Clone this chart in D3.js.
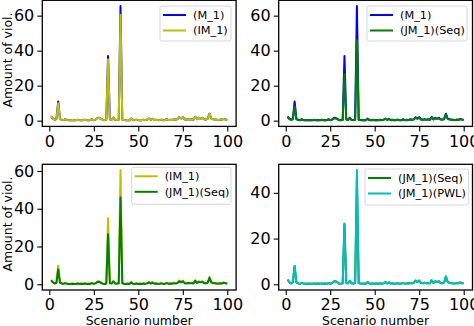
<!DOCTYPE html>
<html><head><meta charset="utf-8">
<script src="https://cdn.jsdelivr.net/npm/d3@7"></script>
<style>body{margin:0;background:#fff}svg{display:block}text{font-family:"DejaVu Sans",sans-serif}</style>
</head><body>
<svg id="c" width="474" height="326"></svg>
<script>
const scenarios = d3.range(1, 101);
const m1 = [2.5,1.2,0.5,1.0,11,1.0,0.5,0.3,0.8,0.4,0.3,0.3,0.4,0.3,0.3,0.5,0.3,0.4,0.3,0.5,
0.3,0.4,0.3,0.8,0.3,0.6,1.5,1.6,1.0,0.4,0.3,0.5,37,0.8,0.5,1.8,0.5,0.4,0.6,65.5,
0.6,0.4,0.3,0.4,0.3,1.2,0.4,0.3,0.5,0.3,0.4,0.3,0.5,0.3,0.6,1.2,0.5,1.1,0.4,0.5,
0.3,0.4,0.6,0.3,0.4,0.8,0.3,0.5,0.4,0.8,0.5,0.9,2.0,1.2,2.0,0.8,0.5,0.9,0.6,0.8,
0.5,2.2,0.8,1.6,1.2,1.6,0.8,0.6,1.0,4.0,1.2,0.8,0.6,0.5,0.4,0.6,0.5,1.0,0.6,0.5];
const im1 = [2.5,1.2,0.5,1.0,10,1.0,0.5,0.3,0.8,0.4,0.3,0.3,0.4,0.3,0.3,0.5,0.3,0.4,0.3,0.5,
0.3,0.4,0.3,0.8,0.3,0.6,1.5,1.6,1.0,0.4,0.3,0.5,35,0.8,0.5,1.8,0.5,0.4,0.6,60.5,
0.6,0.4,0.3,0.4,0.3,1.2,0.4,0.3,0.5,0.3,0.4,0.3,0.5,0.3,0.6,1.2,0.5,1.1,0.4,0.5,
0.3,0.4,0.6,0.3,0.4,0.8,0.3,0.5,0.4,0.8,0.5,0.9,2.0,1.2,2.0,0.8,0.5,0.9,0.6,0.8,
0.5,2.2,0.8,1.6,1.2,1.6,0.8,0.6,1.0,4.0,1.2,0.8,0.6,0.5,0.4,0.6,0.5,1.0,0.6,0.5];
const jmSeq = [2.0,1.0,0.4,0.8,8,0.8,0.4,0.2,0.6,0.3,0.2,0.2,0.3,0.2,0.2,0.4,0.2,0.3,0.2,0.4,
0.2,0.3,0.2,0.6,0.2,0.5,1.2,1.3,0.8,0.3,0.2,0.4,26.5,0.6,0.4,1.5,0.4,0.3,0.5,46,
0.5,0.3,0.2,0.3,0.2,1.0,0.3,0.2,0.4,0.2,0.3,0.2,0.4,0.2,0.5,1.0,0.4,0.9,0.3,0.4,
0.2,0.3,0.5,0.2,0.3,0.6,0.2,0.4,0.3,0.6,0.4,0.7,1.6,1.0,1.6,0.6,0.4,0.7,0.5,0.6,
0.4,1.8,0.6,1.3,1.0,1.3,0.6,0.5,0.8,3.4,1.0,0.6,0.5,0.4,0.3,0.5,0.4,0.8,0.5,0.4];
const jmPwl = [2.0,1.0,0.4,0.8,8,0.8,0.4,0.2,0.6,0.3,0.2,0.2,0.3,0.2,0.2,0.4,0.2,0.3,0.2,0.4,
0.2,0.3,0.2,0.6,0.2,0.5,1.2,1.3,0.8,0.3,0.2,0.4,26.5,0.6,0.4,1.5,0.4,0.3,0.5,50,
0.5,0.3,0.2,0.3,0.2,1.0,0.3,0.2,0.4,0.2,0.3,0.2,0.4,0.2,0.5,1.0,0.4,0.9,0.3,0.4,
0.2,0.3,0.5,0.2,0.3,0.6,0.2,0.4,0.3,0.6,0.4,0.7,1.6,1.0,1.6,0.6,0.4,0.7,0.5,0.6,
0.4,1.8,0.6,1.3,1.0,1.3,0.6,0.5,0.8,3.4,1.0,0.6,0.5,0.4,0.3,0.5,0.4,0.8,0.5,0.4];
const xTicks = [0, 25, 50, 75, 100];
const yTicksA = [0, 20, 40, 60];
const yTicksB = [0, 20, 40];
const seriesNames = ["(M_1)", "(IM_1)", "(JM_1)(Seq)", "(JM_1)(PWL)"];
const xLabel = "Scenario number";
const yLabel = "Amount of viol.";

const colors = {"(M_1)":"#0000ff","(IM_1)":"#bfbf00","(JM_1)(Seq)":"#008000","(JM_1)(PWL)":"#00bfbf"};
const dataBy = {"(M_1)":m1,"(IM_1)":im1,"(JM_1)(Seq)":jmSeq,"(JM_1)(PWL)":jmPwl};

const panels = [
  {x0:42.3, x1:236.1, y0:0.3, y1:126.4, s:["(M_1)","(IM_1)"], yt:yTicksA, ylab:60, xlab:false, leg:{x:160,y:6,w:71,h:35}},
  {x0:278.7, x1:472.5, y0:0.3, y1:126.4, s:["(M_1)","(JM_1)(Seq)"], yt:yTicksA, ylab:null, xlab:false, leg:{x:367,y:6,w:100,h:35}},
  {x0:42.3, x1:236.1, y0:164.3, y1:290, s:["(IM_1)","(JM_1)(Seq)"], yt:yTicksA, ylab:224, xlab:true, leg:{x:131.7,y:167.3,w:99.3,h:37}},
  {x0:278.7, x1:472.5, y0:164.3, y1:290, s:["(JM_1)(Seq)","(JM_1)(PWL)"], yt:yTicksB, ylab:null, xlab:true, leg:{x:365,y:169,w:103.7,h:36}}
];

const svg = d3.select("#c");
panels.forEach(p => {
  const xs = d3.scaleLinear().domain([1 - 99*0.05, 100 + 99*0.05]).range([p.x0, p.x1]);
  const all = p.s.flatMap(n => dataBy[n]);
  const lo = 0, hi = d3.max(all);
  const pad = (hi - lo) * 0.05;
  const ys = d3.scaleLinear().domain([lo - pad, hi + pad]).range([p.y1, p.y0]);
  const g = svg.append("g");
  const line = d3.line().x((d,i)=>xs(scenarios[i])).y(d=>ys(d));
  p.s.forEach(n => {
    g.append("path").datum(dataBy[n]).attr("d", line).attr("fill","none")
      .attr("stroke", colors[n]).attr("stroke-width", 2).attr("stroke-linejoin","round");
  });
  const xa = g.append("g").attr("transform", `translate(0,${p.y1})`)
    .call(d3.axisBottom(xs).tickValues(xTicks).tickSize(5).tickPadding(4).tickFormat(d3.format("d")));
  const ya = g.append("g").attr("transform", `translate(${p.x0},0)`)
    .call(d3.axisLeft(ys).tickValues(p.yt).tickSize(5).tickPadding(3).tickFormat(d3.format("d")));
  [xa, ya].forEach(a => {
    a.select(".domain").remove();
    a.selectAll("line").attr("stroke","#000").attr("stroke-width",1.1);
    a.selectAll("text").attr("font-size",16).attr("fill","#000").attr("font-family","DejaVu Sans");
  });
  g.append("rect").attr("x",p.x0).attr("y",p.y0).attr("width",p.x1-p.x0).attr("height",p.y1-p.y0)
    .attr("fill","none").attr("stroke","#000").attr("stroke-width",1.3);
  if (p.ylab !== null) {
    g.append("text").attr("transform",`translate(11.5,${p.ylab}) rotate(-90)`)
      .attr("text-anchor","middle").attr("font-size",12.5).text(yLabel);
  }
  if (p.xlab) {
    g.append("text").attr("x",(p.x0+p.x1)/2).attr("y",325).attr("text-anchor","middle")
      .attr("font-size",12.5).text(xLabel);
  }
  const L = p.leg;
  const lg = g.append("g");
  lg.append("rect").attr("x",L.x).attr("y",L.y).attr("width",L.w).attr("height",L.h).attr("rx",2)
    .attr("fill","#fff").attr("fill-opacity",0.8).attr("stroke","#ccc").attr("stroke-width",0.8);
  p.s.forEach((n,i) => {
    const yy = L.y + 9 + i*15.5;
    lg.append("line").attr("x1",L.x+3).attr("x2",L.x+26).attr("y1",yy).attr("y2",yy)
      .attr("stroke",colors[n]).attr("stroke-width",2);
    lg.append("text").attr("x",L.x+33).attr("y",yy).attr("dy","0.35em").attr("font-size",11.3).text(n);
  });
});
</script>
</body></html>
